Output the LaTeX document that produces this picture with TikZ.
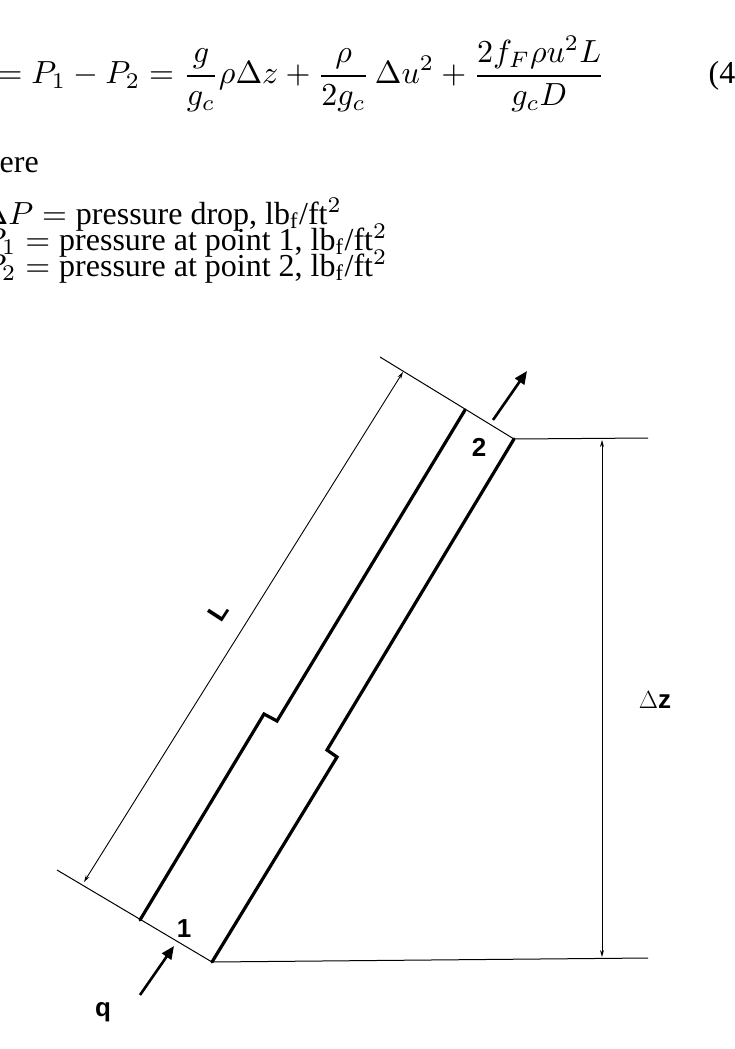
\documentclass[tikz,border=0pt]{standalone}
\usepackage{fontspec}
\setmainfont{Liberation Serif}
\newfontfamily\lsans{Liberation Sans}
\usetikzlibrary{arrows.meta}
\begin{document}
\begin{tikzpicture}[x=1pt,y=-1pt,
  wall/.style={line width=3.2pt,line cap=round,line join=miter},
  thin/.style={line width=1pt},
  dim/.style={line width=0.9pt,{Stealth[length=7pt,width=4pt]}-{Stealth[length=7pt,width=4pt]}},
  flow/.style={line width=2.6pt,-{Triangle[length=13pt,width=11pt]}},
  lab/.style={font=\lsans\bfseries\fontsize{26}{30}\selectfont,inner sep=0pt},
  txt/.style={anchor=base west,inner sep=0pt,scale=3.2}]
\useasboundingbox (0,0) rectangle (734,1049);
\clip (0,0) rectangle (734,1049);
% text
\node[txt] (eq) at (-3,84) {$\displaystyle = P_1 - P_2 = \frac{g}{g_c}\rho\Delta z + \frac{\rho}{2g_c}\,\Delta u^2 + \frac{2f_F\rho u^2L}{g_cD}$};
\node[txt] (eqn) at (708,84) {(4};
\node[txt] (wh) at (-40,172) {where};
\node[txt] (l1) at (-19,224) {$\Delta P = {}$pressure drop, lb$_{\rm f}$/ft$^2$};
\node[txt] (l2) at (-19,250) {$P_1 = {}$pressure at point 1, lb$_{\rm f}$/ft$^2$};
\node[txt] (l3) at (-19,276) {$P_2 = {}$pressure at point 2, lb$_{\rm f}$/ft$^2$};
% geometry
\coordinate (A) at (212,962);
\coordinate (B) at (514,439);
\coordinate (C) at (140,920);
\coordinate (D) at (465,410);
\draw[thin] (57,870) -- (A);
\draw[thin] (380,357) -- (B);
\draw[thin] (A) -- (648,958);
\draw[thin] (B) -- (648,438);
\draw[wall] (C) -- (264,714) -- (277,721) -- (D);
\draw[wall] (A) -- (337,757) -- (327,750) -- (B);
\coordinate (L1) at (84,882);
\coordinate (L2) at (403,372);
\draw[dim] (L1) -- (L2);
\coordinate (Z1) at (602,440);
\coordinate (Z2) at (602,957);
\draw[dim] (Z1) -- (Z2);
\coordinate (q0) at (140,995);
\coordinate (q1) at (174,946);
\draw[flow] (q0) -- (q1);
\coordinate (o0) at (493,420);
\coordinate (o1) at (527,371);
\draw[flow] (o0) -- (o1);
\node[lab] (n1) at (184,929) {1};
\node[lab] (n2) at (479,447) {2};
\node[lab] (nq) at (103,1012) {q};
\node[lab] (nz) at (655,700) {$\Delta$z};
\node[lab,rotate=57] (nL) at (218,612) {L};
\end{tikzpicture}
\end{document}
